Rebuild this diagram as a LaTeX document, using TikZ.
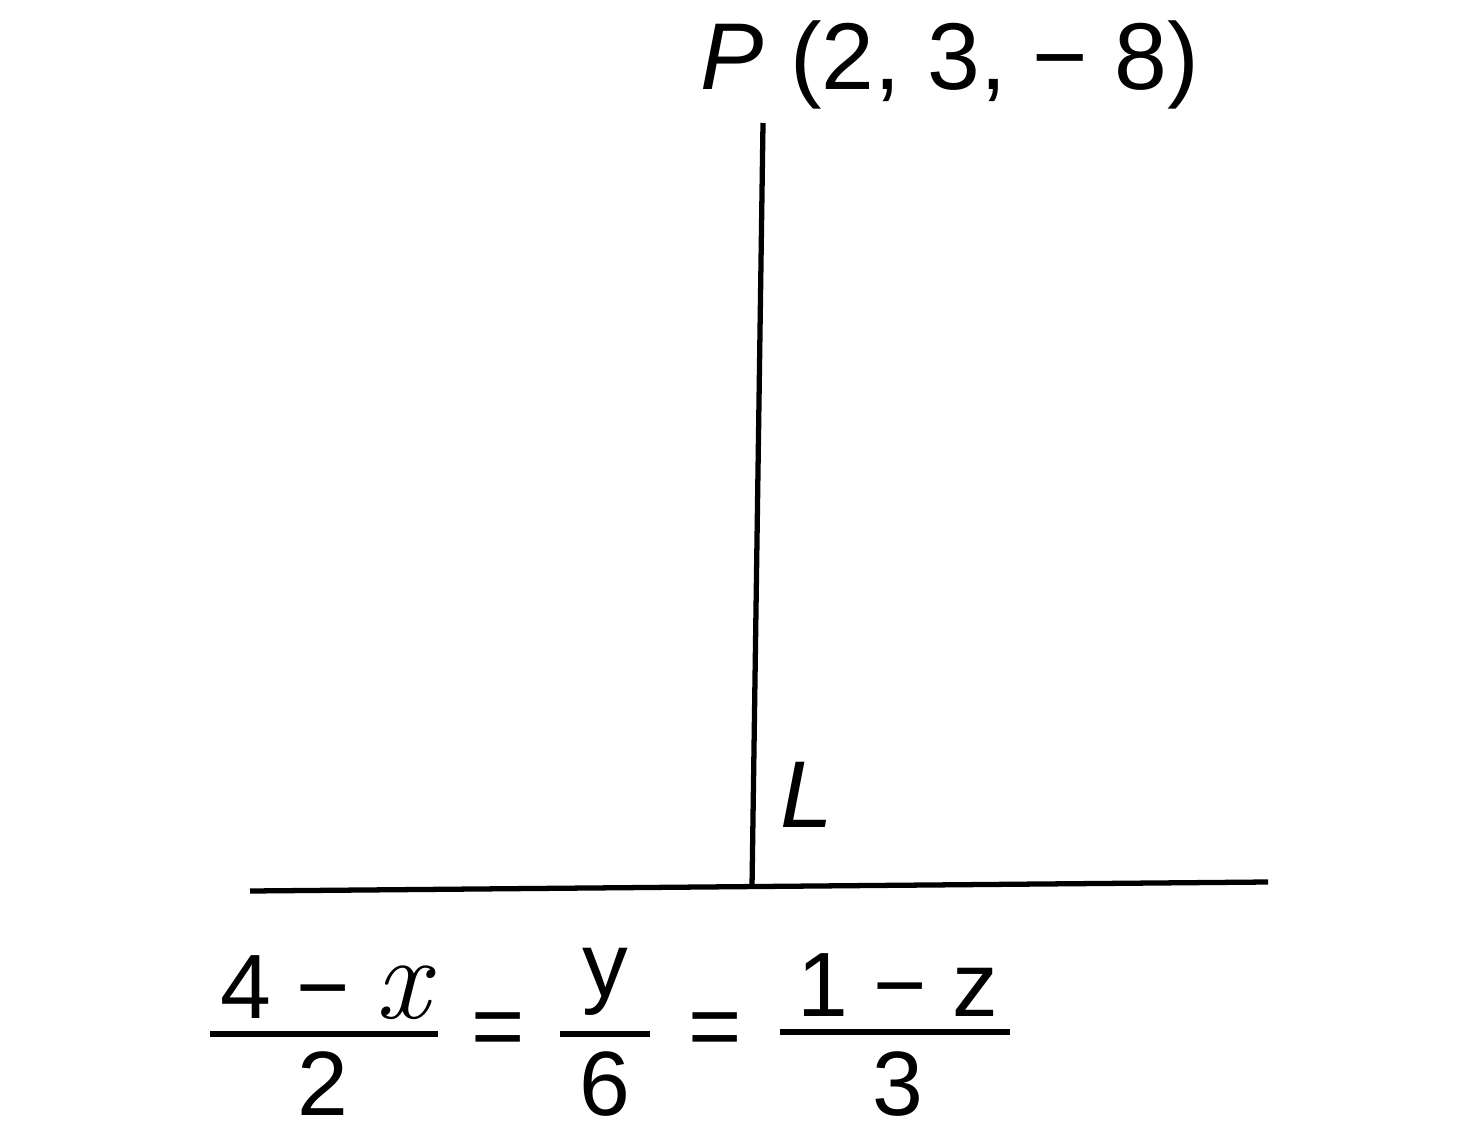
\documentclass[tikz,border=0pt]{standalone}
\usepackage{fontspec}
\setmainfont{Liberation Sans}
\newfontfamily\lmfont{Latin Modern Roman}
\usetikzlibrary{positioning}
\tikzset{
    seg/.style={line width=1.5pt},
    bar/.style={line width=1.8pt},
    lbl/.style={font=\fontsize{27}{32}\selectfont, inner sep=0pt},
    eqn/.style={font=\fontsize{26}{30}\selectfont, inner sep=0pt, text depth=0pt, anchor=base}
}

\begin{document}
\begin{tikzpicture}
    \useasboundingbox (0,0) rectangle (14.64,11.31);

    \coordinate (top) at (7.63,10.08);
    \coordinate (foot) at (7.52,2.44);
    \coordinate (left) at (2.50,2.40);
    \coordinate (right) at (12.68,2.49);

    \node[lbl, anchor=west] (P) at (7.00,10.66) {\textit{P} (2, 3, − 8)};
    \node[lbl, anchor=west] (L) at (7.80,3.36) {\textit{L}};

    \draw[seg] (top) -- (foot);
    \draw[seg] (left) -- (right);

    % first fraction
    \coordinate (b1l) at (2.10,0.97);
    \coordinate (b1r) at (4.38,0.97);
    \draw[bar] (b1l) -- (b1r);
    \node[eqn] (num1) at (3.25,1.13) {4 − {\lmfont\itshape\fontsize{34}{38}\selectfont x}};
    \node[eqn] (den1) at (3.23,0.16) {2};
    \node[eqn, anchor=center] (eq1) at (4.98,0.96) {=};

    % second fraction
    \coordinate (b2l) at (5.60,0.97);
    \coordinate (b2r) at (6.50,0.97);
    \draw[bar] (b2l) -- (b2r);
    \node[eqn] (num2) at (6.05,1.35) {y};
    \node[eqn] (den2) at (6.05,0.16) {6};
    \node[eqn, anchor=center] (eq2) at (7.15,0.96) {=};

    % third fraction
    \coordinate (b3l) at (7.80,0.99);
    \coordinate (b3r) at (10.10,0.99);
    \draw[bar] (b3l) -- (b3r);
    \node[eqn] (num3) at (8.98,1.15) {1 − z};
    \node[eqn] (den3) at (8.98,0.16) {3};
\end{tikzpicture}
\end{document}
